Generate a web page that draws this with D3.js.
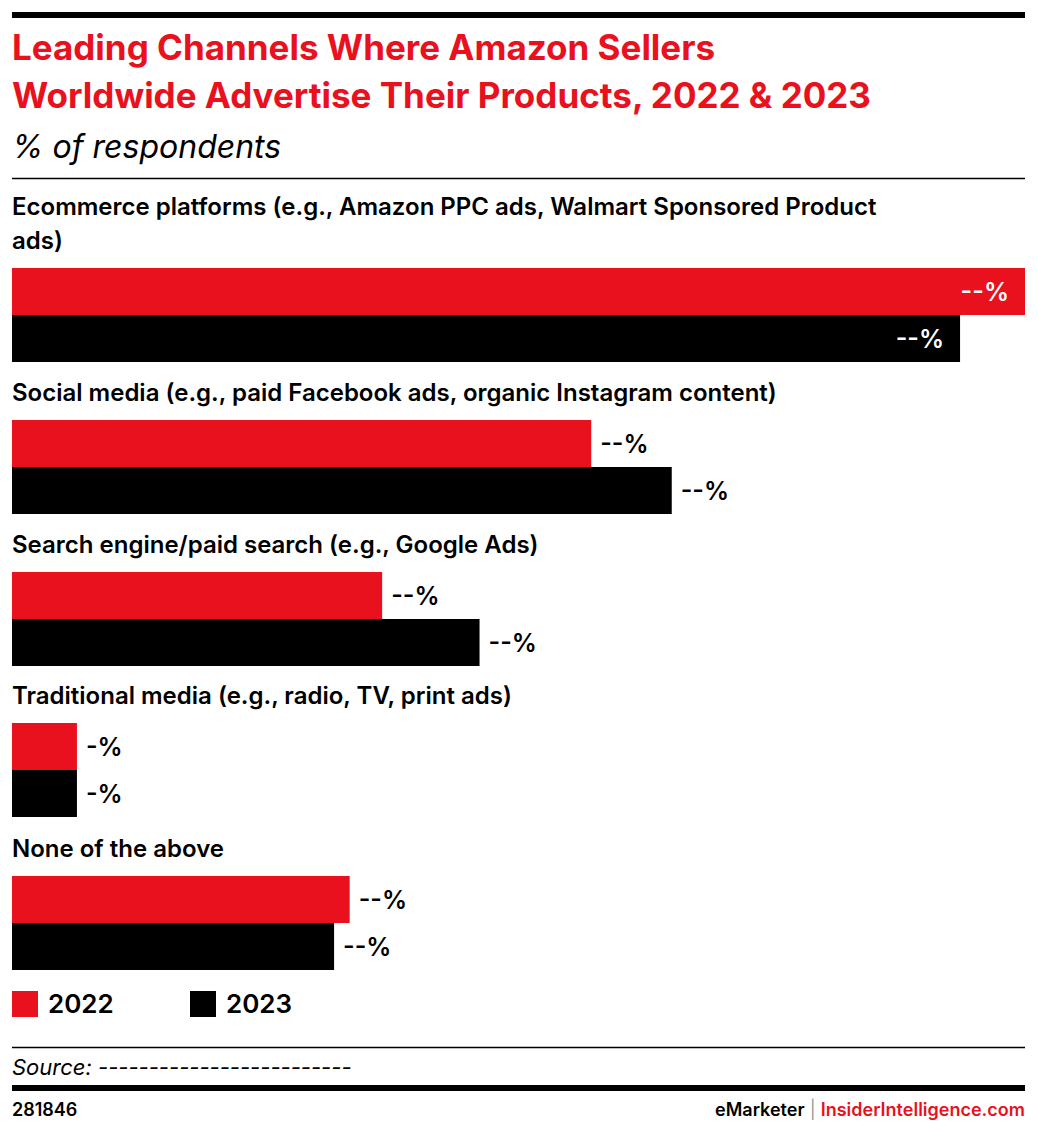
<!DOCTYPE html>
<html><head><meta charset="utf-8">
<script src="https://cdn.jsdelivr.net/npm/d3@7"></script>
<style>body{margin:0;background:#fff}svg{display:block;font-family:Inter,"Noto Sans",sans-serif}</style>
</head><body><svg id="c" width="1038" height="1134"></svg>
<script>
// chart data
const categories = [
  ["Ecommerce platforms (e.g., Amazon PPC ads, Walmart Sponsored Product", "ads)"],
  ["Social media (e.g., paid Facebook ads, organic Instagram content)"],
  ["Search engine/paid search (e.g., Google Ads)"],
  ["Traditional media (e.g., radio, TV, print ads)"],
  ["None of the above"]
];
const years = ["2022", "2023"];
const values2022 = [78, 44.6, 28.5, 5, 26];
const values2023 = [73, 50.8, 36, 5, 24.8];
const valueLabels2022 = ["--%", "--%", "--%", "-%", "--%"];
const valueLabels2023 = ["--%", "--%", "--%", "-%", "--%"];

const red = "#e8111d", black = "#000";
const svg = d3.select("#c");
const left = 12, right = 1025;
const x = d3.scaleLinear().domain([0, 78]).range([left, right]);

// header
svg.append("rect").attr("x", 12).attr("y", 12).attr("width", 1013).attr("height", 6).attr("fill", black);
const t = svg.append("text").attr("fill", red).attr("font-weight", 700).attr("font-size", 35);
t.append("tspan").attr("x", 12).attr("y", 60).text("Leading Channels Where Amazon Sellers");
t.append("tspan").attr("x", 12).attr("y", 108).text("Worldwide Advertise Their Products, 2022 & 2023");
svg.append("text").attr("x", 12).attr("y", 158).attr("font-size", 32).attr("font-style", "italic").text("% of respondents");
svg.append("line").attr("x1", 12).attr("x2", 1025).attr("y1", 178.5).attr("y2", 178.5).attr("stroke", black).attr("stroke-width", 1.5);

// groups: bar top position of first (red) bar
const barTops = [268, 420, 572, 723, 876];
const barH = 47;
categories.forEach((lines, i) => {
  const top = barTops[i];
  const firstY = top - 19 - (lines.length - 1) * 34 - 34 + 34 - 0;
  lines.forEach((ln, j) => {
    svg.append("text").attr("x", 12).attr("y", top - 19 - (lines.length - 1 - j) * 34)
      .attr("font-size", 24).attr("font-weight", 600).text(ln);
  });
  [[values2022[i], valueLabels2022[i], red], [values2023[i], valueLabels2023[i], black]].forEach(([v, lab, col], k) => {
    const y0 = top + k * barH;
    const xe = x(v);
    svg.append("rect").attr("x", left).attr("y", y0).attr("width", xe - left).attr("height", barH - (k === 0 ? 0 : 0)).attr("fill", col);
    const inside = xe > right - 80;
    svg.append("text").attr("x", inside ? xe - 16 : xe + 9).attr("y", y0 + barH / 2 + 9)
      .attr("text-anchor", inside ? "end" : "start").attr("font-size", 25).attr("font-weight", 600)
      .attr("fill", inside ? "#fff" : black).text(lab);
  });
});

// legend
[[12, red, years[0]], [190, black, years[1]]].forEach(([lx, col, lab]) => {
  svg.append("rect").attr("x", lx).attr("y", 991).attr("width", 26).attr("height", 26).attr("fill", col);
  svg.append("text").attr("x", lx + 36).attr("y", 1013).attr("font-size", 26).attr("font-weight", 600).text(lab);
});

// footer
svg.append("line").attr("x1", 12).attr("x2", 1025).attr("y1", 1047.5).attr("y2", 1047.5).attr("stroke", black).attr("stroke-width", 1.5);
svg.append("text").attr("x", 12).attr("y", 1075).attr("font-size", 22).attr("font-style", "italic").text("Source: -------------------------");
svg.append("rect").attr("x", 12).attr("y", 1085).attr("width", 1013).attr("height", 6).attr("fill", black);
svg.append("text").attr("x", 12).attr("y", 1116).attr("font-size", 18).attr("font-weight", 600).text("281846");
const f = svg.append("text").attr("x", 1025).attr("y", 1116).attr("text-anchor", "end").attr("font-size", 18).attr("font-weight", 600);
f.append("tspan").text("eMarketer");
f.append("tspan").attr("fill", "#999").attr("font-weight", 400).text("  |  ");
f.append("tspan").attr("fill", red).text("InsiderIntelligence.com");
</script></body></html>
